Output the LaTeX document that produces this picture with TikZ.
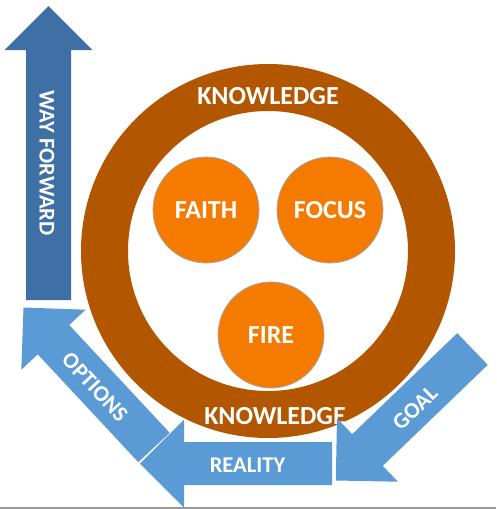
\documentclass[tikz,border=0pt]{standalone}
\usepackage{fontspec}
\setmainfont{Carlito}
\usetikzlibrary{calc}

\definecolor{ringbrown}{RGB}{178,86,0}
\definecolor{dotorange}{RGB}{245,122,0}
\definecolor{lightblue}{RGB}{91,155,213}
\definecolor{darkblue}{RGB}{62,112,165}

\newcommand{\bigfont}{\fontsize{26}{30}\selectfont\bfseries}
\newcommand{\arrowfont}{\fontsize{22.5}{26}\selectfont\bfseries}

\newcommand{\blockarrow}[4]{%
  \coordinate (#2base) at ($(#3)!44pt!(#2)$);
  \fill[#1] ($(#2)!#4!90:(#3)$) -- ($(#2base)!#4!90:(#3)$)
    -- ($(#2base)!44pt!90:(#3)$) -- (#3)
    -- ($(#2base)!44pt!-90:(#3)$) -- ($(#2base)!#4!-90:(#3)$)
    -- ($(#2)!#4!-90:(#3)$) -- cycle;}

\begin{document}
\begin{tikzpicture}[x=1pt,y=-1pt]

      \useasboundingbox (0,0) rectangle (496,509);

      \node[circle, draw=ringbrown, line width=47pt, minimum size=327pt] (ring) at (268,251) {};

      \begin{scope}[every node/.style={circle, fill=dotorange, draw=gray!70, line width=0.8pt,
          minimum size=106pt, inner sep=0pt, text=white, font=\bigfont}]
        \node (faith) at (206,210) {FAITH};
        \node (focus) at (330,210) {FOCUS};
        \node (fire)  at (271,335) {FIRE};
      \end{scope}

      \begin{scope}[every node/.style={text=white, font=\bigfont, inner sep=0pt}]
        \node (knowtop) at (268,96)  {KNOWLEDGE};
        \node (knowbot) at (275,416) {KNOWLEDGE};
      \end{scope}

      \coordinate (wftail) at (48.5,300);
      \coordinate (wftip)  at (48.5,6);
      \coordinate (optail) at (154,447.5);
      \coordinate (optip)  at (23.5,307.5);
      \coordinate (retail) at (332,463.5);
      \coordinate (retip)  at (140,463.5);
      \coordinate (gotail) at (472.5,349);
      \coordinate (gotip)  at (335.8,480.5);

      \blockarrow{darkblue}{wftail}{wftip}{22.5pt}
      \blockarrow{lightblue}{optail}{optip}{21.5pt}
      \blockarrow{lightblue}{retail}{retip}{21.5pt}
      \blockarrow{lightblue}{gotail}{gotip}{22pt}

      \begin{scope}[every node/.style={text=white, font=\arrowfont, inner sep=0pt}]
        \node[rotate=-90] (wayforward) at (47,163)    {WAY FORWARD};
        \node[rotate=-47] (options)    at (95,387)    {OPTIONS};
        \node             (reality)    at (247.5,465) {REALITY};
        \node[rotate=44]  (goal)       at (415,408)   {GOAL};
      \end{scope}

      \draw[gray!80, line width=2pt] (0,508) -- (496,508);

    \end{tikzpicture}
\end{document}
